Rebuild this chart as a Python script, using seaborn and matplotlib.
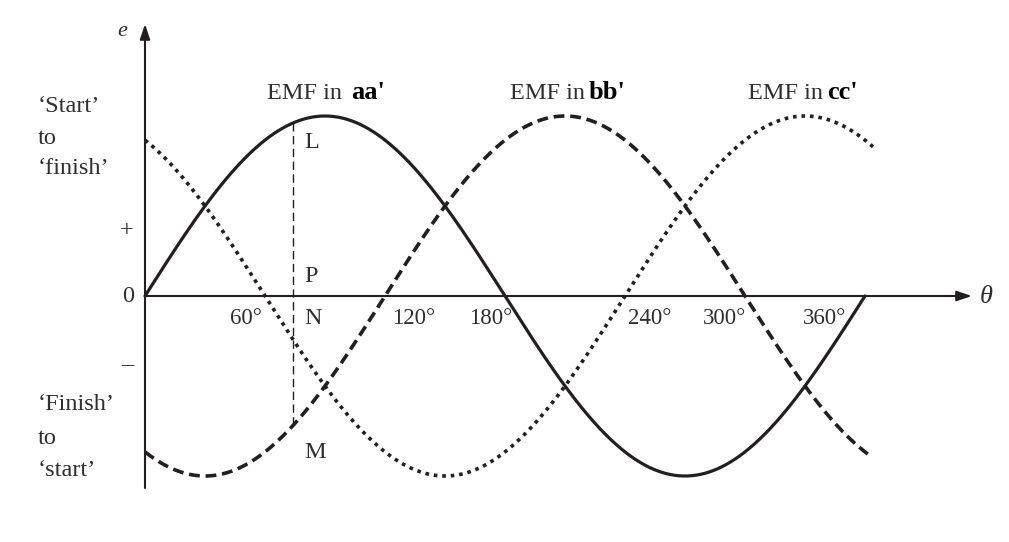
import numpy as np
import pandas as pd
import matplotlib.pyplot as plt
import seaborn as sns

# dane: EMF w trzech uzwojeniach, przesuniecie 120 stopni
phase_names = ["aa'", "bb'", "cc'"]
phase_lag_deg = [0, 120, 240]
theta_end_deg = [360, 362, 364]
peak_emf = 1.0

tick_labels = ['60°', '120°', '180°', '240°', '300°', '360°']
y_labels = ['+', '0', '–']
theta_lmn = 74          # kat linii L-P-N-M

# styl
sns.set_style('white')
plt.rcParams['font.family'] = ['Liberation Serif', 'DejaVu Serif']
ink = '#231f20'
txt = '#2e2e2e'

# styl linii dla kazdej fazy
line_dash = ['', (3.0, 1.6), (1.0, 1.35)]
line_width = [2.3, 2.6, 2.6]

# piksele -> dane (os theta: 2 px na stopien, 1 jednostka EMF = 180 px)
def px(x, y):
    return (x - 145) / 2, (296 - y) / 180

# tabela dla seaborn
rows = []
for name, lag, end in zip(phase_names, phase_lag_deg, theta_end_deg):
    th = np.linspace(0, end, 500)
    rows.append(pd.DataFrame({'theta': th,
                              'emf': peak_emf * np.sin(np.radians(th - lag)),
                              'phase': name}))
df = pd.concat(rows, ignore_index=True)

fig = plt.figure(figsize=(10.09, 5.42), dpi=100)
ax = fig.add_axes([0, 0, 1, 1])

for name, dash, lw in zip(phase_names, line_dash, line_width):
    sns.lineplot(data=df[df['phase'] == name], x='theta', y='emf',
                 color=ink, linewidth=lw, estimator=None, legend=False,
                 ax=ax)
    if dash:
        ax.lines[-1].set_dashes(dash)

# linia L-M
e_a = peak_emf * np.sin(np.radians(theta_lmn - phase_lag_deg[0]))
e_b = peak_emf * np.sin(np.radians(theta_lmn - phase_lag_deg[1]))
ax.vlines(theta_lmn, e_b, e_a, colors=ink, linewidth=1.0,
          linestyles=(0, (6, 3.2)))

# osie ze strzalkami
arrow = dict(arrowstyle='-|>,head_length=0.9,head_width=0.3',
             lw=1.5, color=ink, shrinkA=0, shrinkB=0)
ax.annotate('', xy=px(972, 296), xytext=px(145, 296), arrowprops=arrow)
ax.annotate('', xy=px(145, 24), xytext=px(145, 488), arrowprops=arrow)

# opisy osi
ax.text(*px(122, 31), 'e', fontsize=16, style='italic', color=txt,
        ha='center', va='center')
ax.text(*px(986, 297), 'θ', fontsize=19, style='italic', color=txt,
        ha='center', va='center')

for lab, (x, y) in zip(y_labels, [(127, 231), (128, 296), (127, 366)]):
    ax.text(*px(x, y), lab, fontsize=17.5, color=txt, ha='center', va='center')

tick_pos = [246, 414, 491, 650, 725, 824]
for lab, x in zip(tick_labels, tick_pos):
    ax.text(*px(x, 318), lab, fontsize=16.5, color=txt,
            ha='center', va='center')

# Start/finish
for s, y in zip(['‘Start’', 'to', '‘finish’'], [106, 139, 169]):
    ax.text(*px(38, y), s, fontsize=17.5, color=txt, ha='left', va='center')
for s, y in zip(['‘Finish’', 'to', '‘start’'], [405, 439, 470]):
    ax.text(*px(38, y), s, fontsize=17.5, color=txt, ha='left', va='center')

# punkty L P N M
for s, y in zip(['L', 'P', 'N', 'M'], [142, 277, 318, 452]):
    ax.text(*px(304, y), s, fontsize=17.5, color=txt, ha='left', va='center')

# podpisy EMF
emf_x = [267, 510, 748]
bold_x = [351, 589, 827]
for name, x1, x2 in zip(phase_names, emf_x, bold_x):
    ax.text(*px(x1, 99), 'EMF in', fontsize=17.5, color=txt,
            ha='left', va='baseline')
    ax.text(*px(x2, 99), name, fontsize=19, fontweight='bold', color='black',
            ha='left', va='baseline')

ax.set_xlim(px(0, 0)[0], px(1009, 0)[0])
ax.set_ylim(px(0, 542)[1], px(0, 0)[1])
ax.axis('off')

fig.savefig('out.png', dpi=100)
